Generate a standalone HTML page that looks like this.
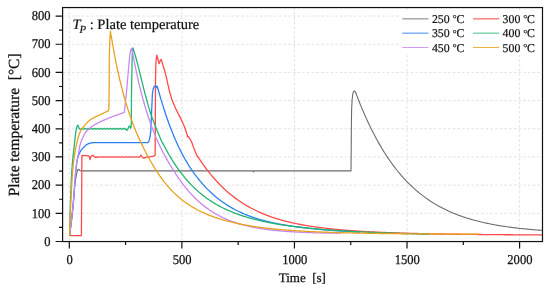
<!DOCTYPE html>
<html><head><meta charset="utf-8"><title>Plate temperature</title>
<style>html,body{margin:0;padding:0;background:#fff;}body{width:550px;height:290px;position:relative;overflow:hidden;font-family:"Liberation Serif",serif;}</style>
</head><body>
<svg width="550" height="290" viewBox="0 0 550 290" style="position:absolute;left:0;top:0;font-family:'Liberation Serif',serif;text-rendering:geometricPrecision;">
<rect x="0" y="0" width="550" height="290" fill="#fff"/>
<path d="M62.6,213.32H542.5 M62.6,185.14H542.5 M62.6,156.96H542.5 M62.6,128.78H542.5 M62.6,100.60H542.5 M62.6,72.42H542.5 M62.6,44.24H542.5 M62.6,16.06H542.5 M69.30,7.55V241.55 M181.88,7.55V241.55 M294.45,7.55V241.55 M407.02,7.55V241.55 M519.60,7.55V241.55" stroke="#dadada" stroke-width="0.8" stroke-dasharray="2.6 2.1" fill="none"/>
<clipPath id="c"><rect x="62.6" y="7.55" width="479.9" height="234.0"/></clipPath>
<g clip-path="url(#c)" fill="none" stroke-width="1.3" stroke-linejoin="round">
<path d="M69.60,235.60 L70.20,230.00 L70.50,228.21 L70.80,226.22 L71.10,224.05 L71.40,221.71 L71.70,219.22 L72.00,216.59 L72.30,213.84 L72.60,210.98 L72.90,208.03 L73.20,205.00 L73.50,201.52 L73.80,197.47 L74.10,193.24 L74.40,189.26 L74.70,185.91 L75.00,183.39 L75.30,181.23 L75.60,179.31 L75.90,177.59 L76.20,176.00 L76.50,174.44 L76.80,172.98 L77.10,171.78 L77.40,170.97 L77.70,170.29 L78.00,169.73 L78.30,169.38 L78.60,169.32 L78.90,169.54 L79.20,169.90 L79.50,170.27 L79.80,170.50 L80.10,170.61 L80.40,170.71 L80.70,170.79 L81.00,170.86 L81.30,170.89 L81.50,170.90 L252.80,170.90 L253.40,171.90 L254.00,170.90 L351.00,170.90 L351.20,150.00 L351.35,128.00 L351.60,110.00 L352.10,100.20 L352.70,94.50 L353.40,91.80 L354.30,91.00 L355.20,91.60 L356.40,94.20 L356.40,94.57 L357.40,97.17 L358.40,99.72 L359.40,102.23 L360.40,104.70 L361.40,107.12 L362.40,109.51 L363.40,111.85 L364.40,114.15 L365.40,116.41 L366.40,118.63 L367.40,120.81 L368.40,122.95 L369.40,125.05 L370.40,127.12 L371.40,129.15 L372.40,131.15 L373.40,133.10 L374.40,135.03 L375.40,136.92 L376.40,138.77 L377.40,140.59 L378.40,142.38 L379.40,144.14 L380.40,145.86 L381.40,147.55 L382.40,149.22 L383.40,150.85 L384.40,152.45 L385.40,154.02 L386.40,155.56 L387.40,157.08 L388.40,158.57 L389.40,160.02 L390.40,161.46 L391.40,162.86 L392.40,164.24 L393.40,165.59 L394.40,166.92 L395.40,168.23 L396.40,169.51 L397.40,170.76 L398.40,171.99 L399.40,173.20 L400.40,174.38 L401.40,175.55 L402.40,176.69 L403.40,177.81 L404.40,178.90 L405.40,179.98 L406.40,181.04 L407.40,182.07 L408.40,183.09 L409.40,184.09 L410.40,185.06 L411.40,186.02 L412.40,186.96 L413.40,187.89 L414.40,188.79 L415.40,189.68 L416.40,190.55 L417.40,191.40 L418.40,192.24 L419.40,193.06 L420.40,193.86 L421.40,194.65 L422.40,195.42 L423.40,196.18 L424.40,196.93 L425.40,197.66 L426.40,198.37 L427.40,199.07 L428.40,199.76 L429.40,200.43 L430.40,201.09 L431.40,201.74 L432.40,202.38 L433.40,203.00 L434.40,203.61 L435.40,204.21 L436.40,204.80 L437.40,205.37 L438.40,205.93 L439.40,206.49 L440.40,207.03 L441.40,207.56 L442.40,208.08 L443.40,208.59 L444.40,209.09 L445.40,209.58 L446.40,210.06 L447.40,210.53 L448.40,211.00 L449.40,211.45 L450.40,211.89 L451.40,212.33 L452.40,212.75 L453.40,213.17 L454.40,213.58 L455.40,213.98 L456.40,214.38 L457.40,214.76 L458.40,215.14 L459.40,215.51 L460.40,215.87 L461.40,216.23 L462.40,216.58 L463.40,216.92 L464.40,217.26 L465.40,217.58 L466.40,217.91 L467.40,218.22 L468.40,218.53 L469.40,218.84 L470.40,219.13 L471.40,219.42 L472.40,219.71 L473.40,219.99 L474.40,220.26 L475.40,220.53 L476.40,220.80 L477.40,221.05 L478.40,221.31 L479.40,221.56 L480.40,221.80 L481.40,222.04 L482.40,222.27 L483.40,222.50 L484.40,222.73 L485.40,222.95 L486.40,223.16 L487.40,223.37 L488.40,223.58 L489.40,223.78 L490.40,223.98 L491.40,224.18 L492.40,224.37 L493.40,224.56 L494.40,224.74 L495.40,224.92 L496.40,225.10 L497.40,225.27 L498.40,225.44 L499.40,225.61 L500.40,225.77 L501.40,225.93 L502.40,226.09 L503.40,226.24 L504.40,226.39 L505.40,226.54 L506.40,226.69 L507.40,226.83 L508.40,226.97 L509.40,227.11 L510.40,227.24 L511.40,227.37 L512.40,227.50 L513.40,227.63 L514.40,227.75 L515.40,227.87 L516.40,227.99 L517.40,228.11 L518.40,228.22 L519.40,228.33 L520.40,228.44 L521.40,228.55 L522.40,228.66 L523.40,228.76 L524.40,228.86 L525.40,228.96 L526.40,229.06 L527.40,229.16 L528.40,229.25 L529.40,229.34 L530.40,229.43 L531.40,229.52 L532.40,229.61 L533.40,229.69 L534.40,229.78 L535.40,229.86 L536.40,229.94 L537.40,230.02 L538.40,230.10 L539.40,230.17 L540.40,230.25 L541.40,230.32 L542.00,230.36" stroke="#6c6c6c" stroke-width="1.1"/>
<path d="M69.60,235.60 L81.40,235.60 L81.90,156.00 L82.10,155.40 L86.00,155.60 L88.50,155.90 L89.50,157.00 L90.00,159.70 L90.70,156.80 L91.80,155.80 L92.90,155.20 L94.20,156.60 L95.50,157.40 L97.50,157.00 L98.00,157.00 L98.35,157.11 L98.70,157.19 L99.05,157.19 L99.40,157.13 L99.75,157.02 L100.10,156.90 L100.45,156.82 L100.80,156.80 L101.15,156.86 L101.50,156.97 L101.85,157.08 L102.20,157.17 L102.55,157.20 L102.90,157.15 L103.25,157.05 L103.60,156.93 L103.95,156.84 L104.30,156.80 L104.65,156.84 L105.00,156.93 L105.35,157.05 L105.70,157.15 L106.05,157.20 L106.40,157.17 L106.75,157.08 L107.10,156.97 L107.45,156.86 L107.80,156.80 L108.15,156.82 L108.50,156.90 L108.85,157.02 L109.20,157.13 L109.55,157.19 L109.90,157.19 L110.25,157.11 L110.60,157.00 L110.95,156.89 L111.30,156.81 L111.65,156.81 L112.00,156.87 L112.35,156.98 L112.70,157.10 L113.05,157.18 L113.40,157.20 L113.75,157.14 L114.10,157.03 L114.45,156.92 L114.80,156.83 L115.15,156.80 L115.50,156.85 L115.85,156.95 L116.20,157.07 L116.55,157.16 L116.90,157.20 L117.25,157.16 L117.60,157.07 L117.95,156.95 L118.30,156.85 L118.65,156.80 L119.00,156.83 L119.35,156.92 L119.70,157.03 L120.05,157.14 L120.40,157.20 L120.75,157.18 L121.10,157.10 L121.45,156.98 L121.80,156.87 L122.15,156.81 L122.50,156.81 L122.85,156.89 L123.20,157.00 L123.55,157.11 L123.90,157.19 L124.25,157.19 L124.60,157.13 L124.95,157.02 L125.30,156.90 L125.65,156.82 L126.00,156.80 L126.35,156.86 L126.70,156.97 L127.05,157.08 L127.40,157.17 L127.75,157.20 L128.10,157.15 L128.45,157.05 L128.80,156.93 L129.15,156.84 L129.50,156.80 L129.85,156.84 L130.20,156.93 L130.55,157.05 L130.90,157.15 L131.25,157.20 L131.60,157.17 L131.95,157.08 L132.30,156.97 L132.65,156.86 L133.00,156.80 L133.35,156.82 L133.70,156.90 L134.05,157.02 L134.40,157.13 L134.75,157.19 L135.10,157.19 L135.45,157.11 L135.80,157.00 L136.15,156.89 L136.50,156.81 L136.85,156.81 L137.20,156.87 L137.55,156.98 L137.90,157.10 L138.25,157.18 L138.60,157.20 L138.95,157.14 L139.30,157.03 L139.50,156.90 L140.40,156.20 L141.00,155.00 L141.80,156.60 L143.00,157.80 L144.00,158.40 L145.00,157.60 L146.50,157.00 L150.00,156.80 L152.50,156.40 L154.00,156.00 L155.10,155.50 L155.30,130.00 L155.50,80.00 L155.90,62.00 L156.80,55.10 L157.60,58.00 L158.40,61.50 L159.10,63.70 L159.80,62.00 L160.40,60.00 L161.00,59.50 L161.70,60.80 L163.00,65.50 L163.00,65.50 L163.50,67.01 L164.00,68.59 L164.50,70.25 L165.00,72.00 L165.50,73.89 L166.00,75.94 L166.50,78.10 L167.00,80.34 L167.50,82.61 L168.00,84.89 L168.50,87.14 L169.00,89.31 L169.50,91.37 L170.00,93.28 L170.50,95.03 L171.00,96.68 L171.50,98.23 L172.00,99.68 L172.50,101.03 L173.00,102.32 L173.50,103.56 L174.00,104.76 L174.50,105.91 L175.00,107.03 L175.50,108.12 L176.00,109.17 L176.50,110.21 L177.00,111.22 L177.50,112.22 L178.00,113.21 L178.50,114.19 L179.00,115.17 L179.50,116.16 L180.00,117.14 L180.50,118.14 L181.00,119.16 L181.50,120.19 L182.00,121.25 L182.50,122.34 L183.00,123.45 L183.50,124.61 L184.00,125.80 L184.50,127.04 L185.00,128.34 L185.50,129.71 L186.00,131.20 L186.50,132.77 L187.00,134.36 L187.20,135.00 L187.20,135.00 L187.30,136.60 L188.20,136.40 L188.20,136.40 L188.70,137.11 L189.20,137.85 L189.70,138.61 L190.20,139.38 L190.70,140.23 L191.20,141.21 L191.70,142.34 L192.20,143.58 L192.70,144.90 L193.20,146.26 L193.70,147.62 L194.20,148.94 L194.70,150.19 L195.20,151.42 L195.70,152.65 L196.20,153.86 L196.70,155.06 L197.20,156.26 L197.30,156.50 L197.30,155.81 L198.30,157.37 L199.30,158.90 L200.30,160.40 L201.30,161.87 L202.30,163.31 L203.30,164.73 L204.30,166.12 L205.30,167.49 L206.30,168.83 L207.30,170.14 L208.30,171.43 L209.30,172.69 L210.30,173.93 L211.30,175.15 L212.30,176.34 L213.30,177.51 L214.30,178.66 L215.30,179.78 L216.30,180.88 L217.30,181.97 L218.30,183.03 L219.30,184.06 L220.30,185.08 L221.30,186.08 L222.30,187.06 L223.30,188.02 L224.30,188.96 L225.30,189.88 L226.30,190.78 L227.30,191.67 L228.30,192.54 L229.30,193.38 L230.30,194.22 L231.30,195.03 L232.30,195.83 L233.30,196.61 L234.30,197.38 L235.30,198.13 L236.30,198.87 L237.30,199.59 L238.30,200.29 L239.30,200.99 L240.30,201.66 L241.30,202.33 L242.30,202.98 L243.30,203.61 L244.30,204.23 L245.30,204.84 L246.30,205.44 L247.30,206.03 L248.30,206.60 L249.30,207.16 L250.30,207.71 L251.30,208.25 L252.30,208.77 L253.30,209.29 L254.30,209.79 L255.30,210.29 L256.30,210.77 L257.30,211.24 L258.30,211.71 L259.30,212.16 L260.30,212.60 L261.30,213.04 L262.30,213.46 L263.30,213.88 L264.30,214.29 L265.30,214.69 L266.30,215.08 L267.30,215.46 L268.30,215.83 L269.30,216.20 L270.30,216.56 L271.30,216.91 L272.30,217.25 L273.30,217.59 L274.30,217.92 L275.30,218.24 L276.30,218.56 L277.30,218.86 L278.30,219.17 L279.30,219.46 L280.30,219.75 L281.30,220.04 L282.30,220.31 L283.30,220.59 L284.30,220.85 L285.30,221.11 L286.30,221.37 L287.30,221.62 L288.30,221.87 L289.30,222.11 L290.30,222.34 L291.30,222.57 L292.30,222.80 L293.30,223.02 L294.30,223.24 L295.30,223.45 L296.30,223.66 L297.30,223.86 L298.30,224.06 L299.30,224.26 L300.30,224.45 L301.30,224.64 L302.30,224.82 L303.30,225.01 L304.30,225.18 L305.30,225.36 L306.30,225.53 L307.30,225.70 L308.30,225.86 L309.30,226.02 L310.30,226.18 L311.30,226.33 L312.30,226.48 L313.30,226.63 L314.30,226.78 L315.30,226.92 L316.30,227.06 L317.30,227.20 L318.30,227.33 L319.30,227.47 L320.30,227.60 L321.30,227.72 L322.30,227.85 L323.30,227.97 L324.30,228.09 L325.30,228.21 L326.30,228.33 L327.30,228.44 L328.30,228.55 L329.30,228.66 L330.30,228.77 L331.30,228.88 L332.30,228.98 L333.30,229.08 L334.30,229.18 L335.30,229.28 L336.30,229.37 L337.30,229.47 L338.30,229.56 L339.30,229.65 L340.30,229.74 L341.30,229.83 L342.30,229.92 L343.30,230.00 L344.30,230.08 L345.30,230.17 L346.30,230.25 L347.30,230.32 L348.30,230.40 L349.30,230.48 L350.30,230.55 L351.30,230.63 L352.30,230.70 L353.30,230.77 L354.30,230.84 L355.30,230.91 L356.30,230.97 L357.30,231.04 L358.30,231.10 L359.30,231.17 L360.30,231.23 L361.30,231.29 L362.30,231.35 L363.30,231.41 L364.30,231.47 L365.30,231.53 L366.30,231.58 L367.30,231.64 L368.30,231.69 L369.30,231.75 L370.30,231.80 L371.30,231.85 L372.30,231.90 L373.30,231.95 L374.30,232.00 L375.30,232.05 L376.30,232.10 L377.30,232.14 L378.30,232.19 L379.30,232.24 L380.30,232.28 L381.30,232.32 L382.30,232.37 L383.30,232.41 L384.30,232.45 L385.30,232.49 L386.30,232.53 L387.30,232.57 L388.30,232.61 L389.30,232.65 L390.30,232.69 L391.30,232.72 L392.30,232.76 L393.30,232.80 L394.30,232.83 L395.30,232.87 L396.30,232.90 L397.30,232.93 L398.30,232.97 L399.30,233.00 L400.30,233.03 L401.30,233.06 L402.30,233.10 L403.30,233.13 L404.30,233.16 L405.30,233.19 L406.30,233.22 L407.30,233.24 L408.30,233.27 L409.30,233.30 L410.30,233.33 L411.30,233.35 L412.30,233.38 L413.30,233.41 L414.30,233.43 L415.30,233.46 L416.30,233.48 L417.30,233.51 L418.30,233.53 L419.30,233.56 L420.30,233.58 L421.30,233.60 L422.30,233.63 L423.30,233.65 L424.30,233.67 L425.30,233.69 L426.30,233.71 L427.30,233.73 L428.30,233.76 L429.30,233.78 L430.30,233.80 L431.30,233.82 L432.30,233.84 L433.30,233.86 L434.30,233.87 L435.30,233.89 L436.30,233.91 L437.30,233.93 L438.30,233.95 L439.30,233.97 L440.30,233.98 L441.30,234.00 L442.30,234.02 L443.30,234.03 L444.30,234.05 L445.30,234.07 L446.30,234.08 L447.30,234.10 L448.30,234.11 L449.30,234.13 L450.30,234.14 L451.30,234.16 L452.30,234.17 L453.30,234.19 L454.30,234.20 L455.30,234.22 L456.30,234.23 L457.30,234.24 L458.30,234.26 L459.30,234.27 L460.30,234.28 L461.30,234.30 L462.30,234.31 L463.30,234.32 L464.30,234.34 L465.30,234.35 L466.30,234.36 L467.30,234.37 L468.30,234.38 L469.30,234.40 L470.30,234.41 L471.30,234.42 L472.30,234.43 L473.30,234.44 L474.30,234.45 L475.30,234.46 L476.30,234.47 L477.30,234.48 L478.30,234.49 L479.30,234.50 L480.30,234.51 L481.30,234.52 L482.30,234.53 L483.30,234.54 L484.30,234.55 L485.30,234.56 L486.30,234.57 L487.30,234.58 L488.30,234.59 L489.30,234.60 L490.30,234.61 L491.30,234.62 L492.30,234.62 L493.30,234.63 L494.30,234.64 L495.30,234.65 L496.30,234.66 L497.30,234.67 L498.30,234.67 L499.30,234.68 L500.30,234.69 L501.30,234.70 L502.30,234.70 L503.30,234.71 L504.30,234.72 L505.30,234.73 L506.30,234.73 L507.30,234.74 L508.30,234.75 L509.30,234.75 L510.30,234.76 L511.30,234.77 L512.30,234.77 L513.30,234.78 L514.30,234.79 L515.30,234.79 L516.30,234.80 L517.30,234.81 L518.30,234.81 L519.30,234.82 L520.30,234.82 L521.30,234.83 L522.30,234.84 L523.30,234.84 L524.30,234.85 L525.30,234.85 L526.30,234.86 L527.30,234.86 L528.30,234.87 L529.30,234.88 L530.30,234.88 L531.30,234.89 L532.30,234.89 L533.30,234.90 L534.30,234.90 L535.30,234.91 L536.30,234.91 L537.30,234.92 L538.30,234.92 L539.30,234.93 L540.30,234.93 L541.30,234.94 L542.00,234.94" stroke="#ff4a4a"/>
<path d="M69.60,235.60 L70.20,230.00 L70.50,227.84 L70.80,225.57 L71.10,223.19 L71.40,220.72 L71.70,218.14 L72.00,215.48 L72.30,212.73 L72.60,209.89 L72.90,206.98 L73.20,203.98 L73.50,200.70 L73.80,197.13 L74.10,193.37 L74.40,189.49 L74.70,185.56 L75.00,181.67 L75.30,177.89 L75.60,174.30 L75.90,170.98 L76.20,168.00 L76.50,165.22 L76.80,162.63 L77.10,160.54 L77.40,159.08 L77.70,157.90 L78.00,156.91 L78.30,156.04 L78.60,155.23 L78.90,154.46 L79.20,153.74 L79.50,153.07 L79.80,152.45 L80.10,151.88 L80.40,151.36 L80.70,150.89 L81.00,150.44 L81.30,150.02 L81.60,149.63 L81.90,149.25 L82.20,148.90 L82.50,148.55 L82.80,148.23 L83.10,147.91 L83.40,147.60 L83.70,147.30 L84.00,147.00 L84.30,146.69 L84.60,146.40 L84.90,146.10 L85.20,145.82 L85.50,145.54 L85.80,145.28 L86.10,145.03 L86.40,144.80 L86.70,144.59 L87.00,144.41 L87.30,144.25 L87.60,144.11 L87.90,143.97 L88.20,143.84 L88.50,143.72 L88.80,143.60 L89.10,143.48 L89.40,143.37 L89.70,143.27 L90.00,143.18 L90.30,143.09 L90.60,143.01 L90.90,142.95 L91.20,142.89 L91.50,142.84 L91.80,142.81 L92.10,142.78 L92.40,142.76 L92.70,142.74 L93.00,142.72 L93.30,142.70 L93.60,142.68 L93.90,142.66 L94.20,142.64 L94.50,142.63 L94.80,142.62 L95.10,142.61 L95.40,142.61 L95.70,142.60 L96.00,142.60 L147.40,142.60 L148.40,142.20 L149.20,140.50 L150.00,137.00 L150.80,131.00 L151.60,112.00 L152.40,94.00 L153.20,89.00 L154.20,86.40 L155.10,85.80 L156.10,86.30 L157.20,88.00 L157.20,86.12 L158.20,89.75 L159.20,93.29 L160.20,96.75 L161.20,100.13 L162.20,103.42 L163.20,106.63 L164.20,109.77 L165.20,112.82 L166.20,115.79 L167.20,118.69 L168.20,121.52 L169.20,124.27 L170.20,126.95 L171.20,129.56 L172.20,132.10 L173.20,134.57 L174.20,136.98 L175.20,139.32 L176.20,141.60 L177.20,143.82 L178.20,145.97 L179.20,148.07 L180.20,150.10 L181.20,152.09 L182.20,154.01 L183.20,155.88 L184.20,157.71 L185.20,159.48 L186.20,161.20 L187.20,162.88 L188.20,164.52 L189.20,166.11 L190.20,167.66 L191.20,169.17 L192.20,170.64 L193.20,172.08 L194.20,173.48 L195.20,174.84 L196.20,176.17 L197.20,177.47 L198.20,178.74 L199.20,179.98 L200.20,181.19 L201.20,182.37 L202.20,183.52 L203.20,184.65 L204.20,185.75 L205.20,186.82 L206.20,187.87 L207.20,188.90 L208.20,189.90 L209.20,190.88 L210.20,191.84 L211.20,192.78 L212.20,193.69 L213.20,194.59 L214.20,195.46 L215.20,196.31 L216.20,197.14 L217.20,197.96 L218.20,198.75 L219.20,199.53 L220.20,200.28 L221.20,201.02 L222.20,201.75 L223.20,202.45 L224.20,203.14 L225.20,203.81 L226.20,204.47 L227.20,205.11 L228.20,205.74 L229.20,206.35 L230.20,206.95 L231.20,207.53 L232.20,208.10 L233.20,208.66 L234.20,209.20 L235.20,209.73 L236.20,210.25 L237.20,210.76 L238.20,211.25 L239.20,211.73 L240.20,212.20 L241.20,212.66 L242.20,213.11 L243.20,213.55 L244.20,213.98 L245.20,214.40 L246.20,214.80 L247.20,215.20 L248.20,215.59 L249.20,215.97 L250.20,216.34 L251.20,216.70 L252.20,217.06 L253.20,217.40 L254.20,217.74 L255.20,218.07 L256.20,218.39 L257.20,218.70 L258.20,219.01 L259.20,219.31 L260.20,219.60 L261.20,219.88 L262.20,220.16 L263.20,220.43 L264.20,220.70 L265.20,220.95 L266.20,221.21 L267.20,221.46 L268.20,221.70 L269.20,221.93 L270.20,222.16 L271.20,222.39 L272.20,222.61 L273.20,222.83 L274.20,223.04 L275.20,223.25 L276.20,223.45 L277.20,223.65 L278.20,223.84 L279.20,224.03 L280.20,224.22 L281.20,224.40 L282.20,224.58 L283.20,224.75 L284.20,224.92 L285.20,225.09 L286.20,225.26 L287.20,225.42 L288.20,225.58 L289.20,225.73 L290.20,225.88 L291.20,226.03 L292.20,226.18 L293.20,226.32 L294.20,226.46 L295.20,226.60 L296.20,226.74 L297.20,226.87 L298.20,227.00 L299.20,227.13 L300.20,227.26 L301.20,227.38 L302.20,227.50 L303.20,227.62 L304.20,227.74 L305.20,227.86 L306.20,227.97 L307.20,228.08 L308.20,228.19 L309.20,228.30 L310.20,228.41 L311.20,228.51 L312.20,228.62 L313.20,228.72 L314.20,228.82 L315.20,228.92 L316.20,229.01 L317.20,229.11 L318.20,229.20 L319.20,229.29 L320.20,229.39 L321.20,229.48 L322.20,229.56 L323.20,229.65 L324.20,229.74 L325.20,229.82 L326.20,229.90 L327.20,229.99 L328.20,230.07 L329.20,230.15 L330.20,230.23 L331.20,230.30 L332.20,230.38 L333.20,230.45 L334.20,230.53 L335.20,230.60 L336.20,230.67 L337.20,230.75 L338.20,230.82 L339.20,230.89 L340.20,230.95 L341.20,231.02 L342.20,231.09 L343.20,231.15 L344.20,231.22 L345.20,231.28 L346.20,231.35 L347.20,231.41 L348.20,231.47 L349.20,231.53 L350.20,231.59 L351.20,231.65 L352.20,231.71 L353.20,231.77 L354.20,231.83 L355.20,231.88 L356.20,231.94 L357.20,231.99 L358.20,232.05 L359.20,232.10 L360.00,232.14" stroke="#2a80f2"/>
<path d="M69.60,235.60 L69.80,225.00 L70.05,215.19 L70.30,206.49 L70.55,199.34 L70.80,192.62 L71.05,186.36 L71.30,180.64 L71.55,175.51 L71.80,171.05 L72.05,167.31 L72.30,164.10 L72.55,161.25 L72.80,158.69 L73.05,156.34 L73.30,154.12 L73.55,151.97 L73.80,149.80 L74.05,147.54 L74.30,145.19 L74.55,142.81 L74.80,140.44 L75.05,138.15 L75.30,135.98 L75.55,133.99 L75.80,132.22 L76.05,130.72 L76.30,129.36 L76.55,128.14 L76.80,127.15 L77.05,126.49 L77.30,125.98 L77.55,125.56 L77.80,125.32 L78.05,125.42 L78.30,125.98 L78.55,126.68 L78.80,127.27 L79.05,127.89 L79.30,128.53 L79.40,128.80 L79.40,128.80 L79.75,129.09 L80.10,129.24 L80.45,129.20 L80.80,128.97 L81.15,128.67 L81.50,128.43 L81.85,128.35 L82.20,128.48 L82.55,128.76 L82.90,129.05 L83.25,129.23 L83.60,129.22 L83.95,129.01 L84.30,128.71 L84.65,128.45 L85.00,128.35 L85.35,128.45 L85.70,128.71 L86.05,129.01 L86.40,129.22 L86.75,129.23 L87.10,129.05 L87.45,128.76 L87.80,128.48 L88.15,128.35 L88.50,128.43 L88.85,128.67 L89.20,128.97 L89.55,129.20 L89.90,129.24 L90.25,129.09 L90.60,128.80 L90.95,128.51 L91.30,128.36 L91.65,128.40 L92.00,128.63 L92.35,128.93 L92.70,129.17 L93.05,129.25 L93.40,129.12 L93.75,128.84 L94.10,128.55 L94.45,128.37 L94.80,128.38 L95.15,128.59 L95.50,128.89 L95.85,129.15 L96.20,129.25 L96.55,129.15 L96.90,128.89 L97.25,128.59 L97.60,128.38 L97.95,128.37 L98.30,128.55 L98.65,128.84 L99.00,129.12 L99.35,129.25 L99.70,129.17 L100.05,128.93 L100.40,128.63 L100.75,128.40 L101.10,128.36 L101.45,128.51 L101.80,128.80 L102.15,129.09 L102.50,129.24 L102.85,129.20 L103.20,128.97 L103.55,128.67 L103.90,128.43 L104.25,128.35 L104.60,128.48 L104.95,128.76 L105.30,129.05 L105.65,129.23 L106.00,129.22 L106.35,129.01 L106.70,128.71 L107.05,128.45 L107.40,128.35 L107.75,128.45 L108.10,128.71 L108.45,129.01 L108.80,129.22 L109.15,129.23 L109.50,129.05 L109.85,128.76 L110.20,128.48 L110.55,128.35 L110.90,128.43 L111.25,128.67 L111.60,128.97 L111.95,129.20 L112.30,129.24 L112.65,129.09 L113.00,128.80 L113.35,128.51 L113.70,128.36 L114.05,128.40 L114.40,128.63 L114.75,128.93 L115.10,129.17 L115.45,129.25 L115.80,129.12 L116.15,128.84 L116.50,128.55 L116.85,128.37 L117.20,128.38 L117.55,128.59 L117.90,128.89 L118.25,129.15 L118.60,129.25 L118.95,129.15 L119.30,128.89 L119.65,128.59 L120.00,128.38 L120.35,128.37 L120.70,128.55 L121.05,128.84 L121.40,129.12 L121.75,129.25 L122.10,129.17 L122.45,128.93 L122.80,128.63 L123.15,128.40 L123.50,128.36 L123.85,128.51 L124.20,128.80 L124.55,129.09 L124.90,129.24 L125.25,129.20 L125.50,128.80 L126.30,129.40 L127.00,130.40 L127.70,129.20 L128.50,127.40 L129.60,125.90 L130.20,127.20 L130.70,128.20 L131.10,127.00 L131.30,124.00 L131.50,94.00 L132.10,60.00 L132.40,52.00 L132.90,47.80 L133.50,49.50 L134.40,52.80 L134.40,52.80 L134.90,54.37 L135.40,55.99 L135.90,57.70 L136.40,59.48 L136.90,61.32 L137.40,63.20 L137.90,65.13 L138.40,67.09 L138.90,69.09 L139.40,71.11 L139.90,73.14 L140.40,75.19 L140.90,77.25 L141.40,79.30 L141.90,81.36 L142.40,83.40 L142.90,85.43 L143.40,87.43 L143.90,89.41 L144.40,91.35 L144.90,93.25 L145.40,95.12 L145.90,97.00 L146.40,98.87 L146.90,100.74 L147.40,102.59 L147.90,104.41 L148.40,106.19 L148.90,107.92 L149.40,109.59 L149.90,111.19 L150.40,112.72 L150.90,114.21 L151.40,115.65 L151.90,117.06 L152.40,118.44 L152.90,119.79 L153.40,121.11 L153.90,122.41 L154.40,123.70 L154.90,124.97 L155.40,126.23 L155.90,127.49 L156.40,128.74 L156.90,130.00 L157.40,131.25 L157.90,132.49 L158.40,133.71 L158.90,134.92 L159.40,136.12 L159.90,137.30 L160.40,138.47 L160.90,139.63 L161.40,140.77 L161.50,141.00 L162.30,142.40 L163.00,144.00 L163.00,143.50 L164.00,145.48 L165.00,147.42 L166.00,149.31 L167.00,151.16 L168.00,152.97 L169.00,154.73 L170.00,156.45 L171.00,158.13 L172.00,159.77 L173.00,161.37 L174.00,162.94 L175.00,164.46 L176.00,165.96 L177.00,167.41 L178.00,168.83 L179.00,170.22 L180.00,171.58 L181.00,172.91 L182.00,174.20 L183.00,175.47 L184.00,176.70 L185.00,177.91 L186.00,179.08 L187.00,180.24 L188.00,181.36 L189.00,182.46 L190.00,183.53 L191.00,184.58 L192.00,185.60 L193.00,186.60 L194.00,187.58 L195.00,188.53 L196.00,189.46 L197.00,190.37 L198.00,191.26 L199.00,192.13 L200.00,192.98 L201.00,193.81 L202.00,194.62 L203.00,195.41 L204.00,196.19 L205.00,196.95 L206.00,197.68 L207.00,198.41 L208.00,199.11 L209.00,199.80 L210.00,200.48 L211.00,201.14 L212.00,201.78 L213.00,202.41 L214.00,203.02 L215.00,203.62 L216.00,204.21 L217.00,204.79 L218.00,205.35 L219.00,205.90 L220.00,206.43 L221.00,206.96 L222.00,207.47 L223.00,207.97 L224.00,208.46 L225.00,208.94 L226.00,209.41 L227.00,209.87 L228.00,210.32 L229.00,210.76 L230.00,211.19 L231.00,211.61 L232.00,212.02 L233.00,212.42 L234.00,212.82 L235.00,213.20 L236.00,213.58 L237.00,213.95 L238.00,214.31 L239.00,214.67 L240.00,215.01 L241.00,215.35 L242.00,215.69 L243.00,216.01 L244.00,216.33 L245.00,216.65 L246.00,216.95 L247.00,217.25 L248.00,217.55 L249.00,217.84 L250.00,218.12 L251.00,218.40 L252.00,218.67 L253.00,218.94 L254.00,219.20 L255.00,219.46 L256.00,219.71 L257.00,219.95 L258.00,220.20 L259.00,220.43 L260.00,220.67 L261.00,220.90 L262.00,221.12 L263.00,221.34 L264.00,221.56 L265.00,221.77 L266.00,221.98 L267.00,222.18 L268.00,222.38 L269.00,222.58 L270.00,222.77 L271.00,222.96 L272.00,223.15 L273.00,223.33 L274.00,223.51 L275.00,223.69 L276.00,223.86 L277.00,224.03 L278.00,224.20 L279.00,224.37 L280.00,224.53 L281.00,224.69 L282.00,224.85 L283.00,225.00 L284.00,225.15 L285.00,225.30 L286.00,225.44 L287.00,225.59 L288.00,225.73 L289.00,225.87 L290.00,226.01 L291.00,226.14 L292.00,226.27 L293.00,226.40 L294.00,226.53 L295.00,226.66 L296.00,226.78 L297.00,226.90 L298.00,227.02 L299.00,227.14 L300.00,227.25 L301.00,227.37 L302.00,227.48 L303.00,227.59 L304.00,227.70 L305.00,227.81 L306.00,227.91 L307.00,228.02 L308.00,228.12 L309.00,228.22 L310.00,228.32 L311.00,228.42 L312.00,228.51 L313.00,228.61 L314.00,228.70 L315.00,228.80 L316.00,228.89 L317.00,228.98 L318.00,229.06 L319.00,229.15 L320.00,229.24 L321.00,229.32 L322.00,229.40 L323.00,229.49 L324.00,229.57 L325.00,229.65 L326.00,229.72 L327.00,229.80 L328.00,229.88 L329.00,229.95 L330.00,230.03 L331.00,230.10 L332.00,230.17 L333.00,230.24 L334.00,230.31 L335.00,230.38 L336.00,230.45 L337.00,230.52 L338.00,230.58 L339.00,230.65 L340.00,230.71 L341.00,230.78 L342.00,230.84 L343.00,230.90 L344.00,230.96 L345.00,231.02 L346.00,231.08 L347.00,231.14 L348.00,231.20 L349.00,231.26 L350.00,231.31 L351.00,231.37 L352.00,231.43 L353.00,231.48 L354.00,231.53 L355.00,231.59 L356.00,231.64 L357.00,231.69 L358.00,231.74 L359.00,231.79 L360.00,231.84 L361.00,231.89 L362.00,231.94 L363.00,231.99 L364.00,232.03 L365.00,232.08 L366.00,232.13 L367.00,232.17 L368.00,232.22 L369.00,232.26 L370.00,232.30 L371.00,232.35 L372.00,232.39 L373.00,232.43 L374.00,232.47 L375.00,232.52 L376.00,232.56 L377.00,232.60 L378.00,232.64 L379.00,232.68 L380.00,232.71 L381.00,232.75 L382.00,232.79 L383.00,232.83 L384.00,232.86 L385.00,232.90 L386.00,232.94 L387.00,232.97 L388.00,233.01 L389.00,233.04 L390.00,233.08 L391.00,233.11 L392.00,233.14 L393.00,233.18 L394.00,233.21 L395.00,233.24 L396.00,233.27 L397.00,233.30 L398.00,233.34 L399.00,233.37 L400.00,233.40 L401.00,233.43 L402.00,233.46 L403.00,233.49 L404.00,233.51 L405.00,233.54 L406.00,233.57 L407.00,233.60 L408.00,233.63 L409.00,233.65 L410.00,233.68 L411.00,233.71 L412.00,233.73 L413.00,233.76 L414.00,233.78 L415.00,233.81 L416.00,233.83 L417.00,233.86 L418.00,233.88 L419.00,233.91 L420.00,233.93 L421.00,233.95 L422.00,233.98 L423.00,234.00 L424.00,234.02 L425.00,234.04 L426.00,234.07 L427.00,234.09 L428.00,234.11 L429.00,234.13 L430.00,234.15" stroke="#22b573"/>
<path d="M69.60,235.60 L70.20,230.00 L70.60,227.25 L71.00,224.24 L71.40,220.99 L71.80,217.53 L72.20,213.87 L72.60,210.03 L73.00,206.02 L73.40,201.64 L73.80,196.46 L74.20,190.78 L74.60,184.95 L75.00,179.28 L75.40,174.11 L75.80,169.76 L76.20,166.47 L76.60,163.75 L77.00,161.38 L77.40,159.20 L77.80,157.05 L78.20,154.81 L78.60,152.53 L79.00,150.28 L79.40,148.14 L79.80,146.19 L80.20,144.52 L80.60,143.15 L81.00,141.94 L81.40,140.85 L81.80,139.85 L82.20,138.92 L82.60,138.05 L83.00,137.22 L83.40,136.41 L83.80,135.59 L84.20,134.79 L84.60,134.01 L85.00,133.27 L85.40,132.59 L85.80,131.99 L86.20,131.48 L86.60,131.04 L87.00,130.65 L87.40,130.30 L87.80,129.96 L88.20,129.64 L88.60,129.32 L89.00,128.99 L89.40,128.63 L89.80,128.27 L90.20,127.91 L90.60,127.55 L91.00,127.21 L91.40,126.88 L91.80,126.57 L92.20,126.29 L92.60,126.01 L93.00,125.75 L93.40,125.49 L93.80,125.24 L94.20,124.99 L94.60,124.75 L95.00,124.52 L95.40,124.29 L95.80,124.07 L96.20,123.85 L96.60,123.64 L97.00,123.42 L97.40,123.21 L97.80,123.01 L98.20,122.80 L98.60,122.60 L99.00,122.40 L99.40,122.20 L99.80,122.00 L100.20,121.81 L100.60,121.62 L101.00,121.43 L101.40,121.25 L101.80,121.06 L102.20,120.88 L102.60,120.70 L103.00,120.53 L103.40,120.35 L103.80,120.18 L104.20,120.00 L104.60,119.83 L105.00,119.66 L105.40,119.49 L105.80,119.33 L106.20,119.16 L106.60,118.99 L107.00,118.82 L107.40,118.66 L107.80,118.49 L108.20,118.33 L108.60,118.17 L109.00,118.01 L109.40,117.85 L109.80,117.69 L110.20,117.53 L110.60,117.38 L111.00,117.22 L111.40,117.07 L111.80,116.91 L112.20,116.76 L112.60,116.61 L113.00,116.46 L113.40,116.31 L113.80,116.16 L114.20,116.01 L114.60,115.86 L115.00,115.71 L115.40,115.57 L115.80,115.42 L116.20,115.27 L116.60,115.13 L117.00,114.98 L117.40,114.84 L117.80,114.69 L118.20,114.55 L118.60,114.40 L119.00,114.26 L119.40,114.12 L119.80,113.98 L120.20,113.84 L120.60,113.70 L121.00,113.56 L121.40,113.42 L121.80,113.28 L122.20,113.14 L122.60,113.01 L123.00,112.87 L123.40,112.73 L123.80,112.60 L124.30,112.20 L126.30,94.00 L129.60,57.00 L130.40,51.00 L131.30,48.50 L132.20,50.50 L132.20,50.60 L133.20,56.01 L134.20,61.21 L135.20,66.21 L136.20,71.02 L137.20,75.64 L138.20,80.09 L139.20,84.37 L140.20,88.49 L141.20,92.46 L142.20,96.29 L143.20,99.98 L144.20,103.53 L145.20,106.97 L146.20,110.28 L147.20,113.48 L148.20,116.57 L149.20,119.56 L150.20,122.45 L151.20,125.24 L152.20,127.94 L153.20,130.56 L154.20,133.09 L155.20,135.55 L156.20,137.92 L157.20,140.23 L158.20,142.46 L159.20,144.63 L160.20,146.73 L161.20,148.78 L162.20,150.76 L163.20,152.69 L164.20,154.56 L165.20,156.39 L166.20,158.18 L167.20,159.93 L168.20,161.65 L169.20,163.33 L170.20,164.99 L171.20,166.63 L172.20,168.24 L173.20,169.84 L174.20,171.42 L175.20,172.98 L176.20,174.53 L177.20,176.06 L178.20,177.55 L179.20,179.02 L180.20,180.45 L181.20,181.85 L182.20,183.21 L183.20,184.53 L184.20,185.82 L185.20,187.08 L186.20,188.31 L187.20,189.52 L188.20,190.69 L189.20,191.84 L190.20,192.97 L191.20,194.06 L192.20,195.13 L193.20,196.18 L194.20,197.20 L195.20,198.19 L196.20,199.16 L197.20,200.11 L198.20,201.04 L199.20,201.94 L200.20,202.82 L201.20,203.67 L202.20,204.51 L203.20,205.32 L204.20,206.12 L205.20,206.89 L206.20,207.64 L207.20,208.38 L208.20,209.09 L209.20,209.79 L210.20,210.47 L211.20,211.13 L212.20,211.77 L213.20,212.39 L214.20,213.00 L215.20,213.60 L216.20,214.17 L217.20,214.73 L218.20,215.28 L219.20,215.81 L220.20,216.33 L221.20,216.83 L222.20,217.32 L223.20,217.79 L224.20,218.26 L225.20,218.71 L226.20,219.14 L227.20,219.57 L228.20,219.98 L229.20,220.38 L230.20,220.77 L231.20,221.15 L232.20,221.52 L233.20,221.88 L234.20,222.23 L235.20,222.57 L236.20,222.90 L237.20,223.22 L238.20,223.53 L239.20,223.83 L240.20,224.12 L241.20,224.41 L242.20,224.68 L243.20,224.95 L244.20,225.21 L245.20,225.46 L246.20,225.71 L247.20,225.95 L248.20,226.18 L249.20,226.41 L250.20,226.63 L251.20,226.84 L252.20,227.05 L253.20,227.25 L254.20,227.44 L255.20,227.63 L256.20,227.81 L257.20,227.99 L258.20,228.17 L259.20,228.33 L260.20,228.50 L261.20,228.66 L262.20,228.81 L263.20,228.96 L264.20,229.10 L265.20,229.25 L266.20,229.38 L267.20,229.51 L268.20,229.64 L269.20,229.77 L270.20,229.89 L271.20,230.01 L272.20,230.12 L273.20,230.23 L274.20,230.34 L275.20,230.45 L276.20,230.55 L277.20,230.65 L278.20,230.74 L279.20,230.83 L280.20,230.92 L281.20,231.01 L282.20,231.10 L283.20,231.18 L284.20,231.26 L285.20,231.34 L286.20,231.41 L287.20,231.48 L288.20,231.55 L289.20,231.62 L290.20,231.69 L291.20,231.75 L292.20,231.82 L293.20,231.88 L294.20,231.94 L295.20,231.99 L296.20,232.05 L297.20,232.10 L298.20,232.15 L299.20,232.20 L300.20,232.25 L301.20,232.30 L302.20,232.34 L303.20,232.39 L304.20,232.43 L305.20,232.47 L306.20,232.51 L307.20,232.55 L308.20,232.59 L309.20,232.62 L310.20,232.66 L311.20,232.69 L312.20,232.72 L313.20,232.75 L314.20,232.78 L315.20,232.81 L316.20,232.84 L317.20,232.87 L318.20,232.89 L319.20,232.92 L320.20,232.94 L321.20,232.96 L322.20,232.98 L323.20,233.00 L324.20,233.02 L325.20,233.04 L326.20,233.06 L327.20,233.08 L328.20,233.09 L329.20,233.11 L330.20,233.12 L331.20,233.13 L332.20,233.15 L333.20,233.16 L334.20,233.17 L335.20,233.18 L336.20,233.19 L337.20,233.20 L338.20,233.20 L339.20,233.21 L340.20,233.22 L341.00,233.22" stroke="#c987f0"/>
<path d="M69.60,235.60 L69.90,225.00 L70.30,214.36 L70.70,205.00 L71.10,196.81 L71.50,188.98 L71.90,181.77 L72.30,175.41 L72.70,170.14 L73.10,166.09 L73.50,162.55 L73.90,159.37 L74.30,156.51 L74.70,153.92 L75.10,151.57 L75.50,149.42 L75.90,147.42 L76.30,145.54 L76.70,143.73 L77.10,141.98 L77.50,140.32 L77.90,138.74 L78.30,137.25 L78.70,135.87 L79.10,134.59 L79.50,133.44 L79.90,132.40 L80.30,131.50 L80.70,130.73 L81.10,130.02 L81.50,129.38 L81.90,128.79 L82.30,128.25 L82.70,127.74 L83.10,127.25 L83.50,126.78 L83.90,126.31 L84.30,125.84 L84.70,125.36 L85.10,124.88 L85.50,124.40 L85.90,123.93 L86.30,123.47 L86.70,123.03 L87.10,122.59 L87.50,122.17 L87.90,121.77 L88.30,121.39 L88.70,121.03 L89.10,120.70 L89.50,120.39 L89.90,120.09 L90.30,119.80 L90.70,119.53 L91.10,119.27 L91.50,119.01 L91.90,118.77 L92.30,118.53 L92.70,118.30 L93.10,118.08 L93.50,117.86 L93.90,117.64 L94.30,117.43 L94.70,117.23 L95.10,117.03 L95.50,116.84 L95.90,116.66 L96.30,116.47 L96.70,116.29 L97.10,116.11 L97.50,115.93 L97.90,115.74 L98.30,115.55 L98.70,115.37 L99.10,115.18 L99.50,114.99 L99.90,114.81 L100.30,114.63 L100.70,114.44 L101.10,114.26 L101.50,114.07 L101.90,113.88 L102.30,113.69 L102.70,113.50 L103.10,113.30 L103.50,113.11 L103.90,112.91 L104.30,112.71 L104.70,112.51 L105.10,112.31 L105.50,112.11 L105.90,111.90 L106.30,111.70 L106.70,111.49 L107.10,111.28 L107.50,111.07 L107.90,110.86 L108.20,110.70 L108.80,109.50 L109.10,94.00 L109.30,57.00 L109.80,40.00 L110.50,31.20 L110.90,35.50 L111.30,36.00 L111.80,40.00 L111.80,39.38 L112.80,45.26 L113.80,50.88 L114.80,56.25 L115.80,61.38 L116.80,66.29 L117.80,70.99 L118.80,75.50 L119.80,79.82 L120.80,83.97 L121.80,87.95 L122.80,91.78 L123.80,95.47 L124.80,99.02 L125.80,102.44 L126.80,105.74 L127.80,108.92 L128.80,112.00 L129.80,114.97 L130.80,117.85 L131.80,120.64 L132.80,123.34 L133.80,125.96 L134.80,128.50 L135.80,130.97 L136.80,133.38 L137.80,135.71 L138.80,137.99 L139.80,140.21 L140.80,142.37 L141.80,144.48 L142.80,146.54 L143.80,148.56 L144.80,150.53 L145.80,152.46 L146.80,154.35 L147.80,156.20 L148.80,158.02 L149.80,159.80 L150.80,161.55 L151.80,163.27 L152.80,164.95 L153.80,166.61 L154.80,168.23 L155.80,169.81 L156.80,171.37 L157.80,172.89 L158.80,174.38 L159.80,175.84 L160.80,177.26 L161.80,178.64 L162.80,179.99 L163.80,181.31 L164.80,182.59 L165.80,183.84 L166.80,185.05 L167.80,186.22 L168.80,187.37 L169.80,188.48 L170.80,189.57 L171.80,190.62 L172.80,191.64 L173.80,192.64 L174.80,193.61 L175.80,194.55 L176.80,195.46 L177.80,196.36 L178.80,197.22 L179.80,198.07 L180.80,198.89 L181.80,199.69 L182.80,200.47 L183.80,201.22 L184.80,201.96 L185.80,202.68 L186.80,203.38 L187.80,204.06 L188.80,204.73 L189.80,205.38 L190.80,206.01 L191.80,206.62 L192.80,207.22 L193.80,207.81 L194.80,208.38 L195.80,208.93 L196.80,209.48 L197.80,210.00 L198.80,210.52 L199.80,211.02 L200.80,211.51 L201.80,211.99 L202.80,212.46 L203.80,212.92 L204.80,213.36 L205.80,213.80 L206.80,214.22 L207.80,214.64 L208.80,215.04 L209.80,215.44 L210.80,215.83 L211.80,216.21 L212.80,216.57 L213.80,216.94 L214.80,217.29 L215.80,217.63 L216.80,217.97 L217.80,218.30 L218.80,218.62 L219.80,218.94 L220.80,219.25 L221.80,219.55 L222.80,219.84 L223.80,220.13 L224.80,220.41 L225.80,220.69 L226.80,220.96 L227.80,221.23 L228.80,221.48 L229.80,221.74 L230.80,221.99 L231.80,222.23 L232.80,222.47 L233.80,222.70 L234.80,222.93 L235.80,223.15 L236.80,223.37 L237.80,223.59 L238.80,223.80 L239.80,224.01 L240.80,224.21 L241.80,224.41 L242.80,224.60 L243.80,224.79 L244.80,224.98 L245.80,225.16 L246.80,225.34 L247.80,225.51 L248.80,225.68 L249.80,225.85 L250.80,226.01 L251.80,226.17 L252.80,226.33 L253.80,226.49 L254.80,226.64 L255.80,226.79 L256.80,226.93 L257.80,227.07 L258.80,227.21 L259.80,227.35 L260.80,227.48 L261.80,227.61 L262.80,227.74 L263.80,227.86 L264.80,227.98 L265.80,228.10 L266.80,228.22 L267.80,228.34 L268.80,228.45 L269.80,228.56 L270.80,228.67 L271.80,228.77 L272.80,228.87 L273.80,228.98 L274.80,229.07 L275.80,229.17 L276.80,229.27 L277.80,229.36 L278.80,229.45 L279.80,229.54 L280.80,229.63 L281.80,229.71 L282.80,229.80 L283.80,229.88 L284.80,229.96 L285.80,230.04 L286.80,230.11 L287.80,230.19 L288.80,230.26 L289.80,230.34 L290.80,230.41 L291.80,230.48 L292.80,230.55 L293.80,230.61 L294.80,230.68 L295.80,230.74 L296.80,230.81 L297.80,230.87 L298.80,230.93 L299.80,230.99 L300.80,231.05 L301.80,231.11 L302.80,231.16 L303.80,231.22 L304.80,231.27 L305.80,231.32 L306.80,231.38 L307.80,231.43 L308.80,231.48 L309.80,231.53 L310.80,231.57 L311.80,231.62 L312.80,231.67 L313.80,231.71 L314.80,231.76 L315.80,231.80 L316.80,231.85 L317.80,231.89 L318.80,231.93 L319.80,231.97 L320.80,232.01 L321.80,232.05 L322.80,232.09 L323.80,232.13 L324.80,232.17 L325.80,232.20 L326.80,232.24 L327.80,232.27 L328.80,232.31 L329.80,232.34 L330.80,232.38 L331.80,232.41 L332.80,232.44 L333.80,232.47 L334.80,232.50 L335.80,232.53 L336.80,232.56 L337.80,232.59 L338.80,232.62 L339.80,232.65 L340.80,232.68 L341.80,232.71 L342.80,232.73 L343.80,232.76 L344.80,232.79 L345.80,232.81 L346.80,232.84 L347.80,232.86 L348.80,232.89 L349.80,232.91 L350.80,232.94 L351.80,232.96 L352.80,232.98 L353.80,233.00 L354.80,233.03 L355.80,233.05 L356.80,233.07 L357.80,233.09 L358.80,233.11 L359.80,233.13 L360.80,233.15 L361.80,233.17 L362.80,233.19 L363.80,233.21 L364.80,233.23 L365.80,233.25 L366.80,233.27 L367.80,233.28 L368.80,233.30 L369.80,233.32 L370.80,233.33 L371.80,233.35 L372.80,233.37 L373.80,233.38 L374.80,233.40 L375.80,233.42 L376.80,233.43 L377.80,233.45 L378.80,233.46 L379.80,233.48 L380.80,233.49 L381.80,233.50 L382.80,233.52 L383.80,233.53 L384.80,233.55 L385.80,233.56 L386.80,233.57 L387.80,233.58 L388.80,233.60 L389.80,233.61 L390.80,233.62 L391.80,233.63 L392.80,233.65 L393.80,233.66 L394.80,233.67 L395.80,233.68 L396.80,233.69 L397.80,233.70 L398.80,233.71 L399.80,233.72 L400.80,233.73 L401.80,233.74 L402.80,233.75 L403.80,233.76 L404.80,233.77 L405.80,233.78 L406.80,233.79 L407.80,233.80 L408.80,233.81 L409.80,233.82 L410.80,233.83 L411.80,233.84 L412.80,233.85 L413.80,233.86 L414.80,233.86 L415.80,233.87 L416.80,233.88 L417.80,233.89 L418.80,233.90 L419.80,233.90 L420.80,233.91 L421.80,233.92 L422.80,233.93 L423.80,233.93 L424.80,233.94 L425.80,233.95 L426.80,233.95 L427.80,233.96 L428.80,233.97 L429.80,233.97 L430.80,233.98 L431.80,233.99 L432.80,233.99 L433.80,234.00 L434.80,234.01 L435.80,234.01 L436.80,234.02 L437.80,234.02 L438.80,234.03 L439.80,234.03 L440.80,234.04 L441.80,234.05 L442.80,234.05 L443.80,234.06 L444.80,234.06 L445.80,234.07 L446.80,234.07 L447.80,234.08 L448.80,234.08 L449.80,234.08 L450.80,234.09 L451.80,234.09 L452.80,234.10 L453.80,234.10 L454.80,234.11 L455.80,234.11 L456.80,234.11 L457.80,234.12 L458.80,234.12 L459.80,234.13 L460.80,234.13 L461.80,234.13 L462.80,234.14 L463.80,234.14 L464.80,234.14 L465.80,234.15 L466.80,234.15 L467.80,234.15 L468.80,234.16 L469.80,234.16 L470.80,234.16 L471.80,234.17 L472.80,234.17 L473.80,234.17 L474.80,234.18 L475.80,234.18 L476.80,234.18 L477.80,234.18 L478.80,234.19 L479.00,234.19" stroke="#e8a21f"/>
</g>
<rect x="62.6" y="7.55" width="479.9" height="234.0" fill="none" stroke="#111" stroke-width="1.2"/>
<path d="M55.6,241.50H62.6 M55.6,213.32H62.6 M55.6,185.14H62.6 M55.6,156.96H62.6 M55.6,128.78H62.6 M55.6,100.60H62.6 M55.6,72.42H62.6 M55.6,44.24H62.6 M55.6,16.06H62.6 M59.1,227.41H62.6 M59.1,199.23H62.6 M59.1,171.05H62.6 M59.1,142.87H62.6 M59.1,114.69H62.6 M59.1,86.51H62.6 M59.1,58.33H62.6 M59.1,30.15H62.6 M69.30,241.55V248.55 M181.88,241.55V248.55 M294.45,241.55V248.55 M407.02,241.55V248.55 M519.60,241.55V248.55 M125.59,241.55V245.05 M238.16,241.55V245.05 M350.74,241.55V245.05 M463.31,241.55V245.05" stroke="#111" stroke-width="1.2" fill="none"/>
<g font-size="13.5" fill="#111" stroke="#111" stroke-width="0.25">
<text transform="translate(50.6,245.70) scale(0.93,1)" text-anchor="end">0</text>
<text transform="translate(50.6,217.52) scale(0.93,1)" text-anchor="end">100</text>
<text transform="translate(50.6,189.34) scale(0.93,1)" text-anchor="end">200</text>
<text transform="translate(50.6,161.16) scale(0.93,1)" text-anchor="end">300</text>
<text transform="translate(50.6,132.98) scale(0.93,1)" text-anchor="end">400</text>
<text transform="translate(50.6,104.80) scale(0.93,1)" text-anchor="end">500</text>
<text transform="translate(50.6,76.62) scale(0.93,1)" text-anchor="end">600</text>
<text transform="translate(50.6,48.44) scale(0.93,1)" text-anchor="end">700</text>
<text transform="translate(50.6,20.26) scale(0.93,1)" text-anchor="end">800</text>
<text transform="translate(69.60,263.6) scale(0.93,1)" text-anchor="middle">0</text>
<text transform="translate(182.18,263.6) scale(0.93,1)" text-anchor="middle">500</text>
<text transform="translate(294.75,263.6) scale(0.93,1)" text-anchor="middle">1000</text>
<text transform="translate(407.32,263.6) scale(0.93,1)" text-anchor="middle">1500</text>
<text transform="translate(519.90,263.6) scale(0.93,1)" text-anchor="middle">2000</text>
</g>
<text x="302.3" y="281.5" font-size="13" text-anchor="middle" fill="#111" stroke="#111" stroke-width="0.25" xml:space="preserve">Time  [s]</text>
<text transform="translate(18.6,124.9) rotate(-90)" font-size="15.45" text-anchor="middle" fill="#111" stroke="#111" stroke-width="0.25" xml:space="preserve">Plate temperature  [°C]</text>
<text x="72.6" y="29" font-size="14.5" fill="#111" stroke="#111" stroke-width="0.2" xml:space="preserve"><tspan font-style="italic">T</tspan><tspan font-style="italic" font-size="10.8" dy="3.7" dx="-1.2">P</tspan><tspan dy="-3.7"> : Plate temperature</tspan></text>
<rect x="399.5" y="10.7" width="141" height="44.3" fill="#fff"/>
<path d="M402.3,18.80h26.2" stroke="#a8a8a8" stroke-width="1.5" fill="none"/>
<text transform="translate(431.9,23.00) scale(0.985,1)" font-size="12" fill="#111" stroke="#111" stroke-width="0.2">250 <tspan font-size="10.5" dy="-0.7">°</tspan><tspan dy="0.7" dx="-0.3">C</tspan></text>
<path d="M473.0,18.80h26.2" stroke="#ff8080" stroke-width="1.5" fill="none"/>
<text transform="translate(502.6,23.00) scale(0.985,1)" font-size="12" fill="#111" stroke="#111" stroke-width="0.2">300 <tspan font-size="10.5" dy="-0.7">°</tspan><tspan dy="0.7" dx="-0.3">C</tspan></text>
<path d="M402.3,33.15h26.2" stroke="#3f8cf5" stroke-width="1.0" fill="none"/>
<text transform="translate(431.9,37.35) scale(0.985,1)" font-size="12" fill="#111" stroke="#111" stroke-width="0.2">350 <tspan font-size="10.5" dy="-0.7">°</tspan><tspan dy="0.7" dx="-0.3">C</tspan></text>
<path d="M473.0,33.15h26.2" stroke="#3fc088" stroke-width="1.0" fill="none"/>
<text transform="translate(502.6,37.35) scale(0.985,1)" font-size="12" fill="#111" stroke="#111" stroke-width="0.2">400 <tspan font-size="10.5" dy="-0.7">°</tspan><tspan dy="0.7" dx="-0.3">C</tspan></text>
<path d="M402.3,47.50h26.2" stroke="#d39af5" stroke-width="1.0" fill="none"/>
<text transform="translate(431.9,51.70) scale(0.985,1)" font-size="12" fill="#111" stroke="#111" stroke-width="0.2">450 <tspan font-size="10.5" dy="-0.7">°</tspan><tspan dy="0.7" dx="-0.3">C</tspan></text>
<path d="M473.0,47.50h26.2" stroke="#efb040" stroke-width="1.0" fill="none"/>
<text transform="translate(502.6,51.70) scale(0.985,1)" font-size="12" fill="#111" stroke="#111" stroke-width="0.2">500 <tspan font-size="10.5" dy="-0.7">°</tspan><tspan dy="0.7" dx="-0.3">C</tspan></text>
</svg>
</body></html>
